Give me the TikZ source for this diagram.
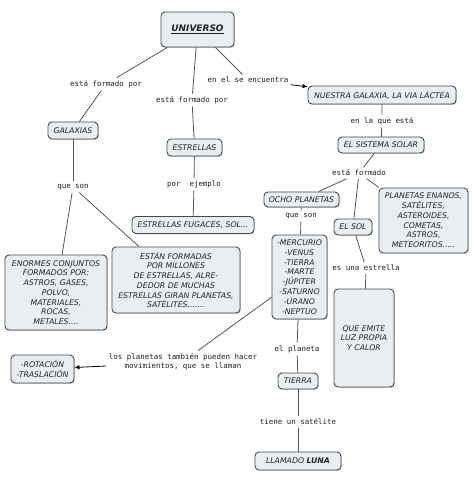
\documentclass[tikz,border=0pt]{standalone}
\usepackage{fontspec}
\setmainfont{DejaVu Sans}
\setmonofont{DejaVu Sans Mono}
\usetikzlibrary{shadows,arrows.meta}
\definecolor{boxfill}{HTML}{E8EEF1}
\definecolor{boxline}{HTML}{4A4A4A}
\definecolor{linkc}{HTML}{555555}
\definecolor{txt}{HTML}{222222}
\tikzset{
 box/.style={draw=boxline, line width=0.9bp, fill=boxfill, rounded corners=4bp, inner sep=1bp, align=center,
   font=\fontsize{7.8}{9.8}\selectfont\itshape, text=txt,
   drop shadow={shadow xshift=0.7bp, shadow yshift=-0.7bp, fill=black, opacity=0.3}},
 lbl/.style={inner sep=2.5bp, align=center, font=\fontsize{7.5}{9}\selectfont\ttfamily, text=txt},
 link/.style={draw=linkc, line width=0.8bp},
 arr/.style={draw=black, line width=0.8bp, -{Latex[length=5bp,width=4.5bp]}}
}
\begin{document}
\begin{tikzpicture}[x=1bp,y=-1bp]
\useasboundingbox[fill=white] (0,0) rectangle (474,484);
% boxes
\node[box, minimum width=73bp, minimum height=35bp, font=\fontsize{9}{11}\selectfont\bfseries\itshape] (univ) at (197.5,29.5) {\underline{UNIVERSO}};
\node[box, minimum width=50bp, minimum height=17bp] (galax) at (73,130.5) {GALAXIAS};
\node[box, minimum width=55bp, minimum height=17bp] (estr) at (194.5,147.5) {ESTRELLAS};
\node[box, minimum width=122bp, minimum height=17bp] (fug) at (193,225) {ESTRELLAS FUGACES, SOL...};
\node[box, minimum width=102bp, minimum height=75bp] (enor) at (56,292.5) {ENORMES CONJUNTOS\\FORMADOS POR:\\ASTROS, GASES,\\POLVO,\\MATERIALES,\\ROCAS,\\METALES....};
\node[box, minimum width=128bp, minimum height=66bp] (estan) at (176,280) {ESTÁN FORMADAS\\POR MILLONES\\DE ESTRELLAS, ALRE-\\DEDOR DE MUCHAS\\ESTRELLAS GIRAN PLANETAS,\\SATÉLITES.......};
\node[box, minimum width=148bp, minimum height=18bp] (nues) at (382,95) {NUESTRA GALAXIA, LA VIA LÁCTEA};
\node[box, minimum width=86bp, minimum height=16bp] (sist) at (381,145) {EL SISTEMA SOLAR};
\node[box, minimum width=75bp, minimum height=15bp] (ocho) at (301.5,199.5) {OCHO PLANETAS};
\node[box, minimum width=38bp, minimum height=16bp] (sol) at (353,227) {EL SOL};
\node[box, minimum width=89bp, minimum height=65bp] (enan) at (423.5,220.5) {PLANETAS ENANOS,\\SATÉLITES,\\ASTEROIDES,\\COMETAS,\\ASTROS,\\METEORITOS.....};
\node[box, minimum width=55bp, minimum height=84bp] (lista) at (299.5,277) {-MERCURIO\\-VENUS\\-TIERRA\\-MARTE\\-JÚPITER\\-SATURNO\\-URANO\\-NEPTUO};
\node[box, minimum width=60bp, minimum height=98bp] (emite) at (364,338) {QUE EMITE\\LUZ PROPIA\\Y CALOR};
\node[box, minimum width=40bp, minimum height=16bp] (tierra) at (298,381) {TIERRA};
\node[box, minimum width=86bp, minimum height=18bp] (luna) at (298,461) {LLAMADO \textbf{LUNA}};
\node[box, minimum width=63bp, minimum height=28bp] (rot) at (42.5,369) {-ROTACIÓN\\-TRASLACIÓN};
% labels
\node[lbl] (l1) at (106,84) {está formado por};
\node[lbl] (l2) at (192,100) {está formado por};
\node[lbl] (l3) at (248,80) {en el se encuentra};
\node[lbl] (l4) at (194,184) {por\ \ ejemplo};
\node[lbl] (l5) at (73,187) {que son};
\node[lbl] (l6) at (382,121) {en la que está};
\node[lbl] (l7) at (359,173) {está formado};
\node[lbl] (l8) at (301,216) {que son};
\node[lbl] (l9) at (366,268) {es una estrella};
\node[lbl] (l10) at (297,349) {el planeta};
\node[lbl] (l11) at (298,422) {tiene un satélite};
\node[lbl] (l12) at (183,361.5) {los planetas también pueden hacer\\movimientos, que se llaman};
% links
\draw[link] (univ) -- (l1) -- (galax);
\draw[link] (univ) -- (l2) -- (estr);
\draw[link] (univ) -- (l3);
\draw[arr] (l3) -- (nues);
\draw[link] (estr) -- (l4) -- (fug);
\draw[link] (galax) -- (l5);
\draw[link] (l5) -- (enor);
\draw[link] (l5) -- (estan);
\draw[link] (nues) -- (l6) -- (sist);
\draw[link] (sist) -- (l7);
\draw[link] (l7) -- (ocho);
\draw[link] (l7) -- (sol);
\draw[link] (l7) -- (enan);
\draw[link] (ocho) -- (l8) -- (lista);
\draw[link] (sol) -- (l9) -- (emite);
\draw[link] (lista) -- (l10) -- (tierra);
\draw[link] (tierra) -- (l11) -- (luna);
\draw[link] (lista) -- (l12);
\draw[arr] ([yshift=-4.5bp]l12.west) -- (rot);
\end{tikzpicture}
\end{document}
